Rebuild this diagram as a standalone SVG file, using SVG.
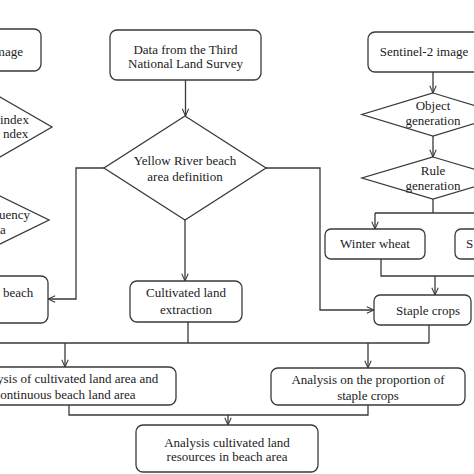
<svg xmlns="http://www.w3.org/2000/svg" width="474" height="474" viewBox="0 0 474 474">
<defs>
<style>
.n{fill:#fff;stroke:#3a3a3a;stroke-width:1.3}
.t{font-family:"Liberation Serif","Times New Roman",serif;font-size:13px;fill:#222}
.m{text-anchor:middle}
.c{fill:none;stroke:#3a3a3a;stroke-width:1.3}
</style>
<marker id="a" viewBox="0 0 10 10" refX="10" refY="5" markerWidth="8" markerHeight="8" markerUnits="userSpaceOnUse" orient="auto">
<path d="M1,1 L10,5 L1,9" fill="none" stroke="#3a3a3a" stroke-width="1.3"/>
</marker>
</defs>
<rect width="474" height="474" fill="#fff"/>
<g id="connectors">
<path class="c" d="M185.5,80 V116" marker-end="url(#a)"/>
<path class="c" d="M104,168 H76 V299 H48" marker-end="url(#a)"/>
<path class="c" d="M185,220 V281" marker-end="url(#a)"/>
<path class="c" d="M266,168 H320 V310 H374" marker-end="url(#a)"/>
<path class="c" d="M433,72 V93" marker-end="url(#a)"/>
<path class="c" d="M433,136 V157" marker-end="url(#a)"/>
<path class="c" d="M433,199 V213 M375,213 H474"/>
<path class="c" d="M375,213 V229" marker-end="url(#a)"/>
<path class="c" d="M381,259 V276 H474"/>
<path class="c" d="M435,276 V295" marker-end="url(#a)"/>
<path class="c" d="M188,322 V343 M429,325 V343 M0,343 H429"/>
<path class="c" d="M65,343 V367" marker-end="url(#a)"/>
<path class="c" d="M368,343 V368" marker-end="url(#a)"/>
<path class="c" d="M69,405 V415 H368 V405"/>
<path class="c" d="M228,415 V425" marker-end="url(#a)"/>
</g>
<g id="image-box">
<rect class="n" x="-60" y="29" width="101" height="42" rx="7"/>
<text class="t" x="23" y="56" text-anchor="end">image</text>
</g>
<g id="data-box">
<rect class="n" x="110" y="30" width="151" height="50" rx="7"/>
<text class="t m" x="185.5" y="54">Data from the Third</text>
<text class="t m" x="185.5" y="68">National Land Survey</text>
</g>
<g id="sentinel-box">
<rect class="n" x="368" y="32" width="120" height="40" rx="7"/>
<text class="t m" x="424" y="56">Sentinel-2 image</text>
</g>
<g id="index-diamond">
<polygon class="n" points="0,97 52,127 0,157 -52,127"/>
<text class="t" x="0" y="124">index</text>
<text class="t" x="3" y="138">ndex</text>
</g>
<g id="frequency-diamond">
<polygon class="n" points="0,196 49,220 0,244 -49,220"/>
<text class="t" x="-1" y="219">uency</text>
<text class="t" x="0" y="234">a</text>
</g>
<g id="yellow-river-diamond">
<polygon class="n" points="185,116 266,168 185,220 104,168"/>
<text class="t m" x="185" y="165">Yellow River beach</text>
<text class="t m" x="185" y="181">area definition</text>
</g>
<g id="object-diamond">
<polygon class="n" points="433,93 504,114.5 433,136 362,114.5"/>
<text class="t m" x="433" y="110">Object</text>
<text class="t m" x="433" y="125">generation</text>
</g>
<g id="rule-diamond">
<polygon class="n" points="433,157 504,178 433,199 362,178"/>
<text class="t m" x="433" y="175">Rule</text>
<text class="t m" x="433" y="190">generation</text>
</g>
<g id="beach-box">
<rect class="n" x="-60" y="276" width="108" height="47" rx="7"/>
<text class="t" x="3" y="297">beach</text>
</g>
<g id="cultivated-box">
<rect class="n" x="130" y="281" width="112" height="41" rx="7"/>
<text class="t m" x="186" y="297">Cultivated land</text>
<text class="t m" x="186" y="314">extraction</text>
</g>
<g id="winter-wheat-box">
<rect class="n" x="325" y="229" width="100" height="30" rx="6"/>
<text class="t m" x="375" y="248">Winter wheat</text>
</g>
<g id="s-box">
<rect class="n" x="455" y="229" width="100" height="30" rx="6"/>
<text class="t" x="466" y="248">S</text>
</g>
<g id="staple-box">
<rect class="n" x="374" y="295" width="97" height="30" rx="6"/>
<text class="t m" x="428" y="315">Staple crops</text>
</g>
<g id="analysis-area-box">
<rect class="n" x="-46" y="367" width="222" height="38" rx="7"/>
<text class="t m" x="65" y="383">Analysis of cultivated land area and</text>
<text class="t m" x="65" y="399">continuous beach land area</text>
</g>
<g id="analysis-proportion-box">
<rect class="n" x="271" y="368" width="194" height="37" rx="7"/>
<text class="t m" x="368" y="384">Analysis on the proportion of</text>
<text class="t m" x="368" y="400">staple crops</text>
</g>
<g id="final-box">
<rect class="n" x="136" y="425" width="182" height="47" rx="7" stroke-width="1.8"/>
<text class="t m" x="227" y="447">Analysis cultivated land</text>
<text class="t m" x="227" y="461">resources in beach area</text>
</g>
</svg>
